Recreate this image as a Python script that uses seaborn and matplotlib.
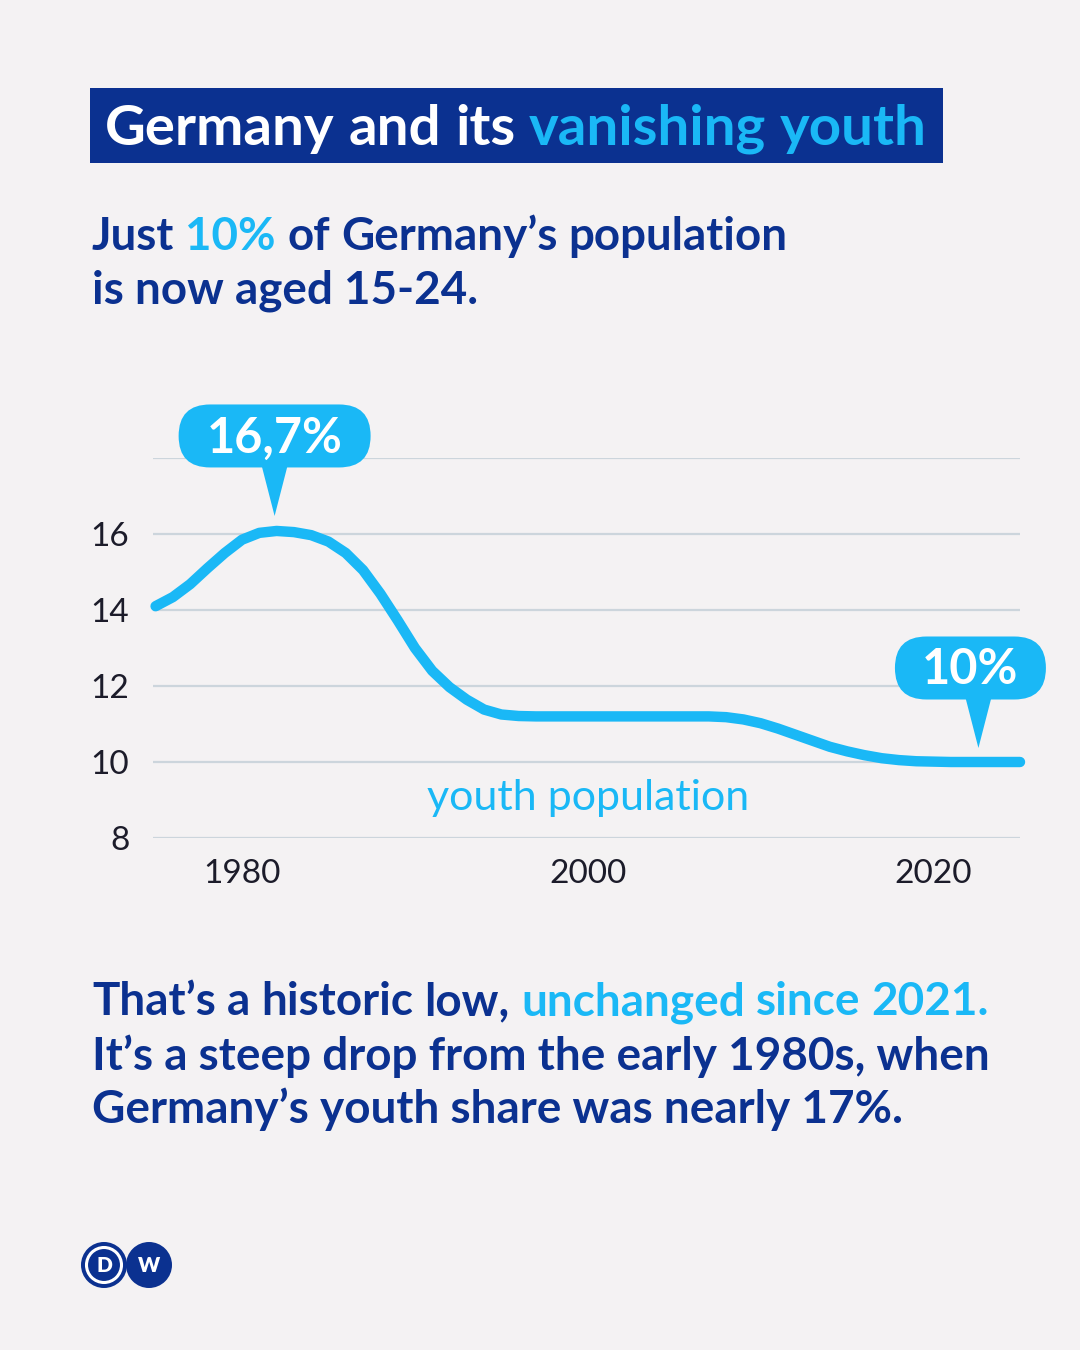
import pandas as pd
import matplotlib.pyplot as plt
import matplotlib.transforms as mtransforms
from matplotlib.patches import FancyBboxPatch, Polygon, Circle, Rectangle
import seaborn as sns

# -------------------------------
# Data
# -------------------------------
years = list(range(1975, 2026))
youth_share = [14.1, 14.34, 14.68, 15.1, 15.5, 15.85, 16.03, 16.08, 16.05, 15.97,
               15.8, 15.5, 15.05, 14.43, 13.73, 13.0, 12.4, 11.97, 11.64, 11.38,
               11.25, 11.21, 11.2, 11.2, 11.2, 11.2, 11.2, 11.2, 11.2, 11.2,
               11.2, 11.2, 11.2, 11.18, 11.12, 11.02, 10.88, 10.72, 10.56, 10.4,
               10.28, 10.18, 10.1, 10.05, 10.02, 10.01, 10.0, 10.0, 10.0, 10.0, 10.0]
y_ticks = [8, 10, 12, 14, 16, 18]
y_tick_labels = ['8', '10', '12', '14', '16', '']
x_ticks = [1980, 2000, 2020]
callout_years = [1982, 2023]
callout_labels = ['16,7%', '10%']
series_label = 'youth population'

df = pd.DataFrame({'year': years, 'share': youth_share})

# -------------------------------
# Style
# -------------------------------
W, H = 1080, 1350
BG = '#F4F2F3'
NAVY = '#0B3190'
CYAN = '#1AB8F6'
GRID = '#CCD5DC'
TICK = '#1C1C2A'
FONT = ['Lato', 'DejaVu Sans']

sns.set_theme(style='white')
plt.rcParams['font.family'] = FONT

fig = plt.figure(figsize=(W / 100, H / 100), dpi=100, facecolor=BG)
renderer = fig.canvas.get_renderer()


def text_width(s, size, weight):
    t = fig.text(0, 0, s, fontsize=size, fontweight=weight)
    w = t.get_window_extent(renderer).width
    t.remove()
    return w


def fit_size(s, target_px, weight='bold'):
    return 40 * target_px / text_width(s, 40, weight)


def rich_line(x_px, base_px, parts, size, weight='bold'):
    space = text_width('a a', size, weight) - text_width('aa', size, weight)
    x = x_px
    for s, c in parts:
        t = fig.text(x / W, 1 - base_px / H, s, color=c, fontsize=size,
                     fontweight=weight, ha='left', va='baseline')
        x += t.get_window_extent(renderer).width + space


# -------------------------------
# Header
# -------------------------------
fig.add_artist(Rectangle((90 / W, 1 - 163 / H), 853 / W, 75 / H,
                         transform=fig.transFigure, color=NAVY, lw=0))
title_parts = [('Germany', 'white'), ('and', 'white'), ('its', 'white'),
               ('vanishing', CYAN), ('youth', CYAN)]
ts = fit_size(' '.join(p for p, _ in title_parts), 820)
rich_line(105, 145, title_parts, ts)

sub1 = [('Just', NAVY), ('10%', CYAN), ('of', NAVY), ('Germany’s', NAVY), ('population', NAVY)]
ss = fit_size(' '.join(p for p, _ in sub1), 696)
rich_line(92, 250, sub1, ss)
rich_line(92, 303, [('is now aged 15-24.', NAVY)], ss)

# -------------------------------
# Chart
# -------------------------------
ax = fig.add_axes([153 / W, 1 - 838 / H, (1020 - 153) / W, 380 / H])
ax.set_facecolor(BG)
sns.lineplot(data=df, x='year', y='share', ax=ax, color=CYAN, linewidth=7.5,
             solid_capstyle='round', solid_joinstyle='round', clip_on=False,
             zorder=5)
ax.set_xlim(1974.85, 2025)
ax.set_ylim(8, 18)
ax.set_yticks(y_ticks)
ax.set_yticklabels(y_tick_labels)
ax.set_xticks(x_ticks)
ax.set_xticklabels([str(v) for v in x_ticks])
ax.grid(axis='y', color=GRID, linewidth=1.6)
ax.grid(axis='x', visible=False)
ax.set_xlabel('')
ax.set_ylabel('')
sns.despine(ax=ax, left=True, bottom=True)
ax.tick_params(axis='y', length=0, pad=17, labelsize=24, labelcolor=TICK)
ax.tick_params(axis='x', length=0, pad=15, labelsize=24, labelcolor=TICK)

ax.text(2000, 9.05, series_label, color=CYAN, fontsize=31, ha='center',
        va='center')


def callout(year, label, tip_dy, box_dx, box_dy, box_w, box_h, ptr_dx, ptr_w):
    value = df.loc[df['year'] == year, 'share'].iloc[0]
    tr = fig.dpi_scale_trans + mtransforms.ScaledTranslation(year, value, ax.transData)
    s = 1 / 100  # px -> inch
    box = FancyBboxPatch(((box_dx - box_w / 2) * s, (box_dy - box_h / 2) * s),
                         box_w * s, box_h * s,
                         boxstyle=f'round,pad=0,rounding_size={box_h / 2 * s}',
                         transform=tr, fc=CYAN, ec='none', clip_on=False, zorder=6)
    ax.add_patch(box)
    base = box_dy - box_h / 2 + 2
    ptr = Polygon([((ptr_dx - ptr_w) * s, base * s), ((ptr_dx + ptr_w) * s, base * s),
                   (ptr_dx * s, tip_dy * s)], closed=True, transform=tr,
                  fc=CYAN, ec='none', clip_on=False, zorder=6)
    ax.add_patch(ptr)
    ax.text(box_dx * s, (box_dy - 2) * s, label, transform=tr, color='white',
            fontsize=35, fontweight='bold', ha='center', va='center',
            zorder=7, clip_on=False)


callout(callout_years[0], callout_labels[0], 15, -2, 95, 192, 63, -2, 13)
callout(callout_years[1], callout_labels[1], 14, -15, 94, 151, 63, -7, 13)

# -------------------------------
# Footer text
# -------------------------------
foot1 = [('That’s', NAVY), ('a', NAVY), ('historic', NAVY), ('low,', NAVY),
         ('unchanged', CYAN), ('since', CYAN), ('2021.', CYAN)]
fs = fit_size(' '.join(p for p, _ in foot1), 896)
rich_line(92, 1015, foot1, fs)
rich_line(92, 1070, [('It’s a steep drop from the early 1980s, when', NAVY)], fs)
rich_line(92, 1123, [('Germany’s youth share was nearly 17%.', NAVY)], fs)

# -------------------------------
# DW logo
# -------------------------------
lax = fig.add_axes([80 / W, 1 - 1292 / H, 95 / W, 54 / H])
lax.set_xlim(0, 95)
lax.set_ylim(0, 54)
lax.axis('off')
lax.add_patch(Circle((24, 27), 23, color=NAVY, lw=0))
lax.add_patch(Circle((69, 27), 23, color=NAVY, lw=0))
lax.add_patch(Circle((24, 27), 17.5, fill=False, ec='white', lw=2.2))
lax.text(24, 26, 'D', color='white', fontsize=15, fontweight='heavy',
         ha='center', va='center')
lax.text(69, 26, 'W', color='white', fontsize=15, fontweight='heavy',
         ha='center', va='center')

fig.savefig('out.png', dpi=100, facecolor=BG)
